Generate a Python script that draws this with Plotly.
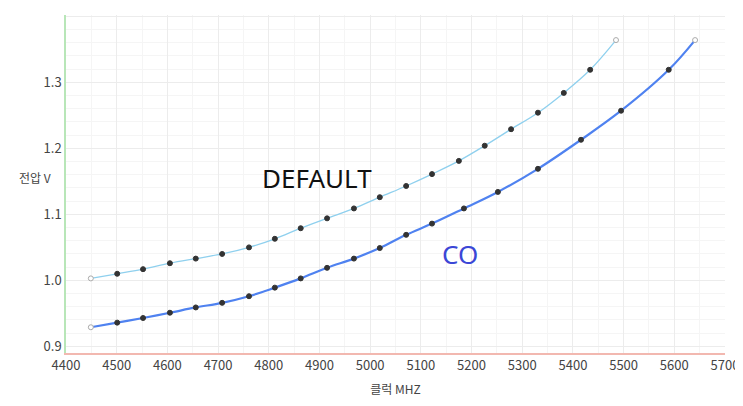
import plotly.graph_objects as go

# clock (MHz) and voltage (V)
default_mhz = [4449, 4501, 4552, 4605, 4656, 4708, 4761, 4812, 4863, 4915, 4968,
               5019, 5071, 5122, 5175, 5226, 5278, 5331, 5382, 5434, 5485]
default_v = [1.003, 1.010, 1.017, 1.026, 1.033, 1.040, 1.050, 1.063, 1.079, 1.094, 1.109,
             1.126, 1.143, 1.161, 1.181, 1.204, 1.229, 1.254, 1.284, 1.319, 1.364]

co_mhz = [4449, 4501, 4552, 4605, 4656, 4708, 4761, 4812, 4863, 4915, 4968,
          5019, 5071, 5122, 5185, 5252, 5331, 5416, 5495, 5589, 5641]
co_v = [0.929, 0.936, 0.943, 0.951, 0.959, 0.966, 0.976, 0.989, 1.003, 1.019, 1.033,
        1.049, 1.069, 1.086, 1.109, 1.134, 1.169, 1.213, 1.257, 1.319, 1.364]

x_ticks = list(range(4400, 5701, 100))
y_ticks = [0.9, 1.0, 1.1, 1.2, 1.3, 1.4]


def marker_style(n):
    # hollow grey end points, dark filled dots in between
    colors = ["white"] + ["#333333"] * (n - 2) + ["white"]
    lines = ["#aaaaaa"] + ["#333333"] * (n - 2) + ["#aaaaaa"]
    return dict(size=5, color=colors, line=dict(color=lines, width=1))


fig = go.Figure()
fig.add_trace(go.Scatter(
    x=default_mhz, y=default_v, mode="lines+markers", name="DEFAULT",
    line=dict(color="#8fd0ee", width=1.3, shape="spline"),
    marker=marker_style(len(default_mhz)),
))
fig.add_trace(go.Scatter(
    x=co_mhz, y=co_v, mode="lines+markers", name="CO",
    line=dict(color="#4f82f0", width=2.2, shape="spline"),
    marker=marker_style(len(co_mhz)),
))

fig.add_annotation(x=4895, y=1.155, text="DEFAULT", showarrow=False,
                   font=dict(size=26, color="#111111", family="Noto Sans"))
fig.add_annotation(x=5178, y=1.04, text="CO", showarrow=False,
                   font=dict(size=26, color="#3b47d6", family="Noto Sans"))

fig.update_layout(
    width=743, height=406,
    margin=dict(l=58, r=26, t=7, b=61, autoexpand=False),
    plot_bgcolor="white", paper_bgcolor="white",
    showlegend=False,
    font=dict(family="Noto Sans CJK KR, Noto Sans", size=13, color="#444444"),
)
fig.update_xaxes(
    range=[4400, 5700], tickvals=x_ticks, ticks="", automargin=False,
    showline=True, linecolor="#f2b8b0", linewidth=1.5,
    gridcolor="#ececec", zeroline=False,
    minor=dict(dtick=50, gridcolor="#f5f5f5", showgrid=True),
    title=dict(text="클럭 MHZ", font=dict(size=12), standoff=12),
)
fig.update_yaxes(
    range=[0.89, 1.402], tickvals=y_ticks, tickformat=".1f", ticks="", automargin=False,
    showline=True, linecolor="#b8e6b8", linewidth=1.5,
    gridcolor="#ececec", zeroline=False,
    minor=dict(dtick=0.02, gridcolor="#f5f5f5", showgrid=True),
    title=None,
)
fig.add_annotation(xref="paper", yref="paper", x=-0.047, y=0.52, text="전압 V",
                   showarrow=False, xanchor="center", font=dict(size=12))

fig.write_html("out.html")
